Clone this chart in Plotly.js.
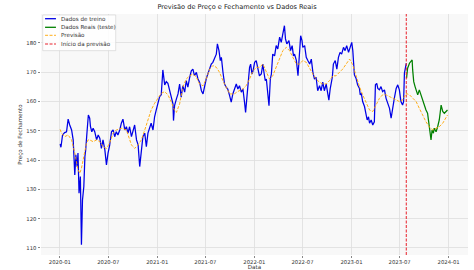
<!DOCTYPE html>
<html>
<head>
<meta charset="utf-8">
<script src="https://cdn.plot.ly/plotly-3.0.1.min.js"></script>
<style>html,body{margin:0;padding:0;background:#fff;}#chart{width:474px;height:270px;}</style>
</head>
<body>
<div id="chart"></div>
<script>
// Dados de treino (blue)
const trainDates = ['2020-01-02','2020-01-05','2020-01-11','2020-01-19','2020-01-26','2020-02-01','2020-02-07','2020-02-14','2020-02-20','2020-02-26','2020-03-01','2020-03-06','2020-03-09','2020-03-13','2020-03-18','2020-03-22','2020-03-26','2020-03-31','2020-04-04','2020-04-07','2020-04-12','2020-04-17','2020-04-22','2020-04-25','2020-04-30','2020-05-05','2020-05-11','2020-05-18','2020-05-24','2020-05-30','2020-06-05','2020-06-11','2020-06-18','2020-06-24','2020-06-30','2020-07-06','2020-07-13','2020-07-19','2020-07-25','2020-07-31','2020-08-06','2020-08-13','2020-08-19','2020-08-25','2020-09-01','2020-09-07','2020-09-13','2020-09-19','2020-09-26','2020-10-02','2020-10-08','2020-10-15','2020-10-21','2020-10-27','2020-11-02','2020-11-08','2020-11-15','2020-11-21','2020-11-27','2020-12-03','2020-12-09','2020-12-16','2020-12-22','2020-12-28','2021-01-04','2021-01-10','2021-01-16','2021-01-22','2021-01-29','2021-02-04','2021-02-10','2021-02-16','2021-02-22','2021-03-01','2021-03-03','2021-03-07','2021-03-14','2021-03-20','2021-03-26','2021-04-01','2021-04-07','2021-04-14','2021-04-20','2021-04-26','2021-05-03','2021-05-09','2021-05-15','2021-05-21','2021-05-28','2021-06-03','2021-06-09','2021-06-16','2021-06-22','2021-06-28','2021-07-04','2021-07-10','2021-07-17','2021-07-23','2021-07-29','2021-08-05','2021-08-11','2021-08-15','2021-08-21','2021-08-26','2021-08-30','2021-09-05','2021-09-11','2021-09-17','2021-09-23','2021-09-30','2021-10-06','2021-10-12','2021-10-19','2021-10-25','2021-10-31','2021-11-06','2021-11-13','2021-11-19','2021-11-25','2021-11-29','2021-12-04','2021-12-08','2021-12-14','2021-12-18','2021-12-23','2021-12-27','2022-01-02','2022-01-08','2022-01-14','2022-01-20','2022-01-27','2022-02-02','2022-02-06','2022-02-11','2022-02-15','2022-02-21','2022-02-25','2022-03-02','2022-03-06','2022-03-11','2022-03-18','2022-03-24','2022-03-30','2022-04-06','2022-04-12','2022-04-18','2022-04-24','2022-04-28','2022-05-03','2022-05-11','2022-05-17','2022-05-23','2022-05-28','2022-06-01','2022-06-08','2022-06-14','2022-06-20','2022-06-24','2022-06-29','2022-07-02','2022-07-09','2022-07-15','2022-07-21','2022-07-28','2022-08-03','2022-08-09','2022-08-15','2022-08-21','2022-08-27','2022-09-03','2022-09-09','2022-09-15','2022-09-21','2022-09-28','2022-10-04','2022-10-08','2022-10-13','2022-10-21','2022-10-25','2022-11-01','2022-11-07','2022-11-13','2022-11-19','2022-11-25','2022-12-02','2022-12-08','2022-12-14','2022-12-21','2022-12-27','2023-01-02','2023-01-06','2023-01-08','2023-01-12','2023-01-18','2023-01-24','2023-01-31','2023-02-03','2023-02-07','2023-02-12','2023-02-19','2023-02-25','2023-03-01','2023-03-06','2023-03-10','2023-03-16','2023-03-22','2023-03-28','2023-04-01','2023-04-06','2023-04-10','2023-04-16','2023-04-22','2023-04-28','2023-05-05','2023-05-11','2023-05-17','2023-05-24','2023-05-30','2023-06-05','2023-06-11','2023-06-18','2023-06-24','2023-06-30','2023-07-06','2023-07-12','2023-07-16','2023-07-19','2023-07-23','2023-07-26'];
const trainValues = [145.5,144.4,148.6,149.4,149.7,154.0,152.0,150.3,146.9,134.9,141.8,137.8,142.4,128.7,134.4,111.1,126.4,131.0,141.2,143.5,149.7,155.4,154.3,151.4,149.7,150.9,149.7,146.9,148.6,147.5,144.0,146.9,143.5,138.4,142.4,145.0,149.7,150.3,148.0,149.7,148.6,150.3,152.6,154.0,150.3,151.4,149.2,151.4,148.0,149.7,152.0,146.9,145.2,137.8,142.4,148.0,149.2,144.6,149.2,151.4,152.6,150.3,154.8,157.1,160.0,161.7,162.3,170.8,165.7,166.8,166.2,164.0,162.0,159.2,153.5,158.6,160.9,162.6,166.0,161.5,165.4,163.2,167.1,164.9,168.3,170.5,171.1,168.8,170.0,167.7,166.6,163.7,162.6,165.4,167.7,169.4,171.7,172.8,173.4,175.1,176.2,179.7,177.4,174.0,175.1,170.0,166.0,164.9,164.3,162.0,159.8,162.6,164.3,166.0,164.3,165.4,163.2,164.3,159.8,156.3,161.5,166.0,171.7,172.8,169.4,170.5,173.4,174.0,171.1,168.8,169.4,172.8,170.0,167.1,167.7,163.2,158.6,167.7,169.4,176.2,175.6,179.1,178.0,182.0,180.2,183.1,185.9,181.4,179.7,180.8,177.4,179.1,175.6,176.2,174.0,168.8,176.8,182.5,180.8,178.5,179.1,175.1,174.0,172.8,174.5,170.0,167.7,168.3,163.7,165.4,163.7,166.6,163.7,166.0,162.6,160.5,164.3,168.3,172.8,174.0,171.1,175.1,176.8,176.2,178.5,177.4,179.1,176.8,178.5,180.2,177.4,172.5,169.1,168.0,165.7,164.5,162.3,162.8,160.0,158.3,156.0,153.7,154.8,152.6,153.7,152.0,153.1,165.7,166.2,164.5,164.0,165.1,163.4,164.0,161.1,159.4,157.7,154.3,157.1,161.1,164.5,165.7,164.0,160.0,158.8,160.0,169.7,171.9,173.0];

// Dados Reais (teste) (green)
const testDates = ['2023-07-27','2023-07-31','2023-08-07','2023-08-13','2023-08-17','2023-08-19','2023-08-23','2023-08-28','2023-09-01','2023-09-07','2023-09-13','2023-09-19','2023-09-25','2023-10-02','2023-10-08','2023-10-14','2023-10-18','2023-10-23','2023-10-27','2023-10-31','2023-11-05','2023-11-08','2023-11-15','2023-11-21','2023-11-27','2023-12-04','2023-12-10','2023-12-16','2023-12-22','2023-12-28'];
const testValues = [168.0,171.4,173.1,173.6,174.2,170.8,166.8,165.1,164.0,162.3,164.0,162.3,160.0,158.3,157.1,156.0,153.1,149.7,146.9,150.3,149.2,150.9,149.7,151.4,153.7,158.8,156.6,156.0,156.6,157.1];

// Previsão (orange dashed)
const predDates = ['2020-01-02','2020-01-07','2020-01-19','2020-02-01','2020-02-14','2020-02-26','2020-03-09','2020-03-16','2020-03-22','2020-03-28','2020-04-04','2020-04-10','2020-04-16','2020-04-22','2020-05-05','2020-05-18','2020-05-30','2020-06-11','2020-06-24','2020-07-06','2020-07-19','2020-07-31','2020-08-19','2020-09-07','2020-09-26','2020-10-08','2020-10-21','2020-11-02','2020-11-15','2020-11-27','2020-12-09','2020-12-22','2021-01-04','2021-01-16','2021-01-29','2021-02-10','2021-02-22','2021-03-07','2021-03-14','2021-03-26','2021-04-07','2021-04-20','2021-05-03','2021-05-15','2021-05-28','2021-06-09','2021-06-22','2021-07-04','2021-07-17','2021-07-29','2021-08-11','2021-08-23','2021-09-05','2021-09-17','2021-09-30','2021-10-19','2021-10-25','2021-11-19','2021-12-01','2021-12-14','2021-12-27','2022-01-08','2022-01-20','2022-02-02','2022-02-15','2022-02-27','2022-03-11','2022-03-24','2022-04-06','2022-04-18','2022-05-01','2022-05-13','2022-05-25','2022-06-08','2022-06-20','2022-07-02','2022-07-15','2022-07-28','2022-08-09','2022-08-21','2022-09-03','2022-09-15','2022-09-28','2022-10-10','2022-10-23','2022-11-04','2022-11-17','2022-11-29','2022-12-12','2022-12-25','2023-01-06','2023-01-18','2023-01-31','2023-02-12','2023-02-25','2023-03-10','2023-03-22','2023-04-04','2023-04-16','2023-04-28','2023-05-11','2023-05-24','2023-06-05','2023-06-18','2023-06-30','2023-07-12','2023-07-25','2023-08-07','2023-08-19','2023-09-01','2023-09-13','2023-09-25','2023-10-08','2023-10-20','2023-11-02','2023-11-15','2023-11-27','2023-12-10','2023-12-22','2023-12-28'];
const predValues = [150.5,149.2,148.0,148.6,146.9,142.4,136.7,135.5,137.2,140.1,142.9,145.8,146.9,146.9,146.3,146.9,146.3,144.6,144.0,145.8,149.2,150.3,150.9,150.3,145.2,144.0,145.2,146.9,150.3,153.7,157.1,159.4,161.1,162.8,163.4,162.3,160.0,157.0,156.3,159.2,164.9,167.7,168.8,169.4,168.3,166.0,165.4,167.7,171.1,172.3,171.7,170.0,167.1,164.9,162.6,162.6,163.2,164.3,165.4,167.7,170.5,171.7,171.7,172.8,170.0,167.7,168.8,171.7,175.1,177.4,178.5,177.4,175.2,172.8,172.8,174.0,173.4,171.1,169.4,167.7,166.6,166.0,166.0,167.1,168.8,168.8,170.0,171.1,172.8,174.5,172.5,168.5,165.1,162.3,159.4,157.1,156.6,158.8,161.1,162.3,162.3,161.7,161.1,160.5,160.0,160.5,162.8,162.3,161.1,160.0,157.7,155.4,153.1,151.4,150.3,150.9,151.4,152.6,154.3,155.4];

const splitDate = '2023-07-26';
const tickDates = ['2020-01-01','2020-07-01','2021-01-01','2021-07-01','2022-01-01','2022-07-01','2023-01-01','2023-07-01','2024-01-01'];
const tickLabels = ['2020-01','2020-07','2021-01','2021-07','2022-01','2022-07','2023-01','2023-07','2024-01'];
const yTicks = [110,120,130,140,150,160,170,180];

const seriesNames = ['Dados de treino', 'Dados Reais (teste)', 'Previsão', 'Início da previsão'];
const seriesColors = ['#0000e6', '#008000', 'rgba(255,165,0,0.9)', '#e8202a'];
const seriesDash = ['solid', 'solid', '3px,1.5px', '3px,1.5px'];

const font = 'DejaVu Sans, sans-serif';
const traces = [
  {x: trainDates, y: trainValues, type: 'scatter', mode: 'lines', name: seriesNames[0],
   line: {color: seriesColors[0], width: 1.25}},
  {x: testDates, y: testValues, type: 'scatter', mode: 'lines', name: seriesNames[1],
   line: {color: seriesColors[1], width: 1.25}},
  {x: predDates, y: predValues, type: 'scatter', mode: 'lines', name: seriesNames[2],
   line: {color: seriesColors[2], width: 1, dash: seriesDash[2]}}
];

// compact legend drawn in the upper-left corner of the plot area (matplotlib style)
const shapes = [
  {type: 'line', xref: 'x', yref: 'paper', x0: splitDate, x1: splitDate, y0: 0, y1: 1,
   line: {color: seriesColors[3], width: 1, dash: seriesDash[3]}},
  {type: 'rect', xref: 'paper', yref: 'paper', x0: 0.004, x1: 0.175, y0: 0.848, y1: 0.996,
   fillcolor: 'rgba(255,255,255,0.85)', line: {color: '#d0d0d0', width: 0.6}, layer: 'above'}
];
const annotations = [];
const rowY = [0.9805, 0.9448, 0.9116, 0.8755];
seriesNames.forEach((nm, i) => {
  shapes.push({type: 'line', xref: 'paper', yref: 'paper', x0: 0.0095, x1: 0.035, y0: rowY[i], y1: rowY[i],
               line: {color: seriesColors[i], width: i < 2 ? 1.3 : 1, dash: seriesDash[i]}, layer: 'above'});
  annotations.push({text: nm, xref: 'paper', yref: 'paper', x: 0.042, y: rowY[i], xanchor: 'left', yanchor: 'middle',
                    showarrow: false, font: {family: font, size: 5.6, color: '#333333'}});
});

const layout = {
  width: 474, height: 270,
  margin: {l: 41, r: 6, t: 14, b: 15},
  paper_bgcolor: '#ffffff', plot_bgcolor: '#f8f8f8',
  font: {family: font, size: 5.4, color: '#333333'},
  title: {text: 'Previsão de Preço e Fechamento vs Dados Reais', font: {family: font, size: 6.6, color: '#222222'},
          x: 0.5, xanchor: 'center', y: 0.975, yanchor: 'middle'},
  xaxis: {type: 'date', range: ['2019-10-22', '2024-03-14'], tickvals: tickDates, ticktext: tickLabels,
          showgrid: true, gridcolor: '#dddddd', gridwidth: 0.8, zeroline: false, showline: false,
          ticks: 'outside', ticklen: 2, tickcolor: '#888888', tickfont: {size: 5.3, color: '#333333'},
          title: {text: 'Data', font: {size: 5.6, color: '#333333'}, standoff: 6}, automargin: false},
  yaxis: {range: [107.6, 189.9], tickvals: yTicks, showgrid: true, gridcolor: '#dddddd', gridwidth: 0.8,
          zeroline: false, showline: false, ticks: 'outside', ticklen: 2.5, tickcolor: '#888888',
          tickfont: {size: 5.3, color: '#333333'},
          title: {text: 'Preço de Fechamento', font: {size: 5.6, color: '#333333'}, standoff: 3}, automargin: false},
  shapes: shapes,
  annotations: annotations,
  showlegend: false
};
Plotly.newPlot('chart', traces, layout, {displayModeBar: false, staticPlot: true});
</script>
</body>
</html>
